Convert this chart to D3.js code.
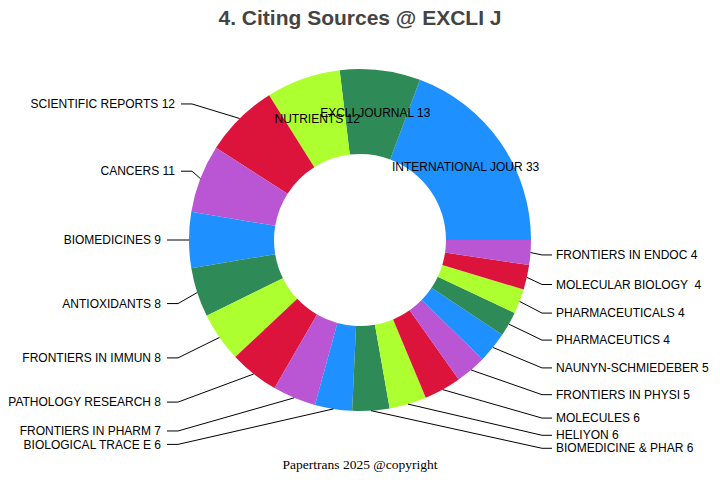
<!DOCTYPE html>
<html>
<head>
<meta charset="utf-8">
<script src="https://cdn.jsdelivr.net/npm/d3@7"></script>
<style>
  html, body { margin: 0; padding: 0; background: #fff; }
  svg { display: block; }
  text { white-space: pre; }
</style>
</head>
<body>
<svg id="chart" width="720" height="480"></svg>
<script>
const titleText = "4. Citing Sources @ EXCLI J";
const footerText = "Papertrans 2025 @copyright";
const categories = [
  "INTERNATIONAL JOUR", "EXCLI JOURNAL", "NUTRIENTS", "SCIENTIFIC REPORTS",
  "CANCERS", "BIOMEDICINES", "ANTIOXIDANTS", "FRONTIERS IN IMMUN",
  "PATHOLOGY RESEARCH", "FRONTIERS IN PHARM", "BIOLOGICAL TRACE E",
  "BIOMEDICINE & PHAR", "HELIYON", "MOLECULES", "FRONTIERS IN PHYSI",
  "NAUNYN-SCHMIEDEBER", "PHARMACEUTICS", "PHARMACEUTICALS",
  "MOLECULAR BIOLOGY ", "FRONTIERS IN ENDOC"
];
const counts = [33, 13, 12, 12, 11, 9, 8, 8, 8, 7, 6, 6, 6, 6, 5, 5, 4, 4, 4, 4];
const palette = ["#1E90FF", "#2E8B57", "#ADFF2F", "#DC143C", "#BA55D3"];
const insideCount = 3;

const svg = d3.select("#chart");
const W = 720, H = 480;
const cx = 360, cy = 240, rOuter = 171, rInner = 86;

svg.append("text")
  .attr("x", W / 2).attr("y", 25)
  .attr("text-anchor", "middle")
  .attr("font-family", "Liberation Sans, Arial, sans-serif")
  .attr("font-weight", "bold")
  .attr("font-size", 21)
  .attr("fill", "#444")
  .text(titleText);

const data = categories.map((c, i) => ({ name: c, value: counts[i], idx: i }));

const pie = d3.pie().sort(null).value(d => d.value)
  .startAngle(Math.PI / 2).endAngle(Math.PI / 2 - 2 * Math.PI);
const arcs = pie(data);
const arc = d3.arc().innerRadius(rInner).outerRadius(rOuter);
const color = d3.scaleOrdinal().domain(d3.range(5)).range(palette);

const g = svg.append("g").attr("transform", `translate(${cx},${cy})`);

g.selectAll("path.slice").data(arcs).enter().append("path")
  .attr("class", "slice")
  .attr("d", arc)
  .attr("fill", d => color(d.data.idx % 5));

// inside labels
g.selectAll("text.inlab").data(arcs.filter(d => d.data.idx < insideCount)).enter()
  .append("text")
  .attr("class", "inlab")
  .attr("transform", d => `translate(${arc.centroid(d)})`)
  .attr("text-anchor", "middle")
  .attr("dy", "0.35em")
  .attr("font-family", "Liberation Sans, Arial, sans-serif")
  .attr("font-size", 12)
  .attr("fill", "#000")
  .text(d => d.data.name + " " + d.data.value);

// outside labels with layout
const outs = arcs.filter(d => d.data.idx >= insideCount).map(d => {
  const mid = (d.startAngle + d.endAngle) / 2;
  const px = rOuter * Math.sin(mid), py = -rOuter * Math.cos(mid);
  const side = Math.sin(mid) >= 0 ? 1 : -1;
  const upper = py < -5;
  const k = side === 1 ? 1.19 : (upper ? 1.12 : 1.21);
  const ny = k * py;
  return { d, mid, px, py, side, upper, y: ny, ny };
});

const minGap = 13;
[1, -1].forEach(s => {
  const list = outs.filter(o => o.side === s).sort((a, b) => a.ny - b.ny);
  for (let i = 1; i < list.length; i++) {
    if (list[i].y < list[i - 1].y + minGap) list[i].y = list[i - 1].y + minGap;
  }
});

outs.forEach(o => {
  if (o.side === 1) {
    o.tx = rOuter + 25;
    o.lineEnd = o.tx - 4;
    o.elbow = o.lineEnd - 10;
  } else {
    o.tx = o.upper ? -(rOuter + 14) : -(rOuter + 28);
    o.lineEnd = o.tx + 6;
    o.elbow = o.lineEnd + 11;
  }
});

g.selectAll("polyline.leader").data(outs).enter().append("polyline")
  .attr("class", "leader")
  .attr("points", o => `${o.px},${o.py} ${o.elbow},${o.y} ${o.lineEnd},${o.y}`)
  .attr("fill", "none")
  .attr("stroke", "#000")
  .attr("stroke-width", 1);

g.selectAll("text.outlab").data(outs).enter().append("text")
  .attr("class", "outlab")
  .attr("x", o => o.tx)
  .attr("y", o => o.y)
  .attr("dy", "0.35em")
  .attr("text-anchor", o => o.side === 1 ? "start" : "end")
  .attr("font-family", "Liberation Sans, Arial, sans-serif")
  .attr("font-size", 12)
  .attr("fill", "#000")
  .text(o => o.d.data.name + " " + o.d.data.value);

svg.append("text")
  .attr("x", W / 2).attr("y", 469)
  .attr("text-anchor", "middle")
  .attr("font-family", "Liberation Serif, Times New Roman, serif")
  .attr("font-size", 13.5)
  .attr("fill", "#000")
  .text(footerText);
</script>
</body>
</html>
